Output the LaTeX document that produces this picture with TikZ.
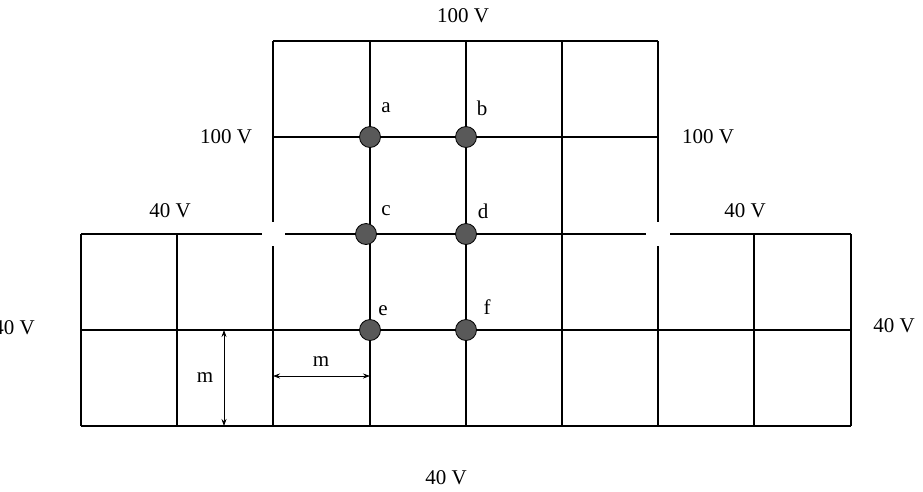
\documentclass[tikz,border=0pt]{standalone}
\usepackage{fontspec}
\usetikzlibrary{arrows.meta}
\setmainfont{Liberation Serif}
\begin{document}
\begin{tikzpicture}[x=1pt,y=-1pt,
  grid/.style={line width=1.2pt},
  dot/.style={circle,draw=black,fill=black!65,line width=0.8pt,minimum size=21pt,inner sep=0},
  lab/.style={font=\fontsize{21}{24}\selectfont,inner sep=0},
  dim/.style={line width=0.7pt,<->,>={Stealth[length=7pt,width=5pt]}}]
\useasboundingbox (0,0) rectangle (923,491);
% horizontal
\draw[grid] (273,41) -- (658,41);
\draw[grid] (273,137) -- (658,137);
\draw[grid] (81,234) -- (262,234) (285,234) -- (646,234) (670,234) -- (851,234);
\draw[grid] (81,330) -- (851,330);
\draw[grid] (81,426) -- (851,426);
% vertical
\foreach \x in {370,466,562} \draw[grid] (\x,41) -- (\x,426);
\foreach \x in {273,658} \draw[grid] (\x,41) -- (\x,222) (\x,246) -- (\x,426);
\foreach \x in {81,177,754,851} \draw[grid] (\x,234) -- (\x,426);
% dots
\node[dot] (na) at (370,137) {};
\node[dot] (nb) at (466,137) {};
\node[dot] (nc) at (366,234) {};
\node[dot] (nd) at (466,234) {};
\node[dot] (ne) at (370,330) {};
\node[dot] (nf) at (466,330) {};
\node[lab] (la) at (386,108) {a};
\node[lab] (lb) at (482,108) {b};
\node[lab] (lc) at (386,211) {c};
\node[lab] (ld) at (483,211) {d};
\node[lab] (le) at (383,311) {e};
\node[lab] (lf) at (487,307) {f};
% voltages
\node[lab] (t1) at (463,16) {100 V};
\node[lab] (t2) at (226,137) {100 V};
\node[lab] (t3) at (708,137) {100 V};
\node[lab] (t4) at (170,211) {40 V};
\node[lab] (t5) at (745,211) {40 V};
\node[lab] (t6) at (14,328) {40 V};
\node[lab] (t7) at (894,326) {40 V};
\node[lab] (t8) at (446,478) {40 V};
% dimensions
\coordinate (v1) at (224,330); \coordinate (v2) at (224,426);
\draw[dim] (v1) -- (v2);
\node[lab] (m1) at (205,378) {m};
\coordinate (h1) at (273,376); \coordinate (h2) at (370,376);
\draw[dim] (h1) -- (h2);
\node[lab] (m2) at (321,362) {m};
\end{tikzpicture}
\end{document}
